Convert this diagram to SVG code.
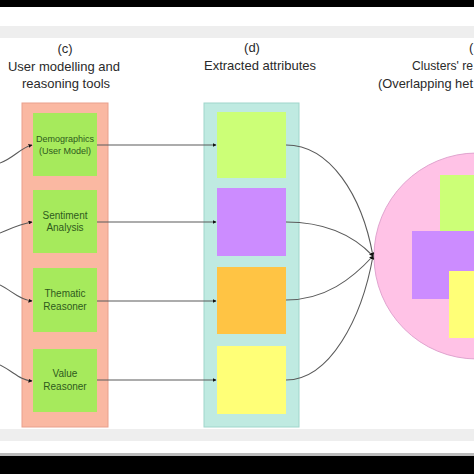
<svg xmlns="http://www.w3.org/2000/svg" width="474" height="474" viewBox="0 0 474 474">
<style>
.title{font-family:"Liberation Sans",Arial,sans-serif;font-size:13px;fill:#2a2a2a;text-anchor:middle}
.lbl{font-family:"Liberation Sans",Arial,sans-serif;font-size:10px;fill:#2f5a1c;text-anchor:middle}
.tool{fill:#a6ea5c}
.conn{fill:none;stroke:#5a5a5a;stroke-width:1.1}
</style>
<defs>
<marker id="ah" markerWidth="4" markerHeight="4" refX="3.5" refY="2" orient="auto" markerUnits="userSpaceOnUse">
<path d="M0,0 L4,2 L0,4 Z" fill="#111"/>
</marker>
</defs>
<rect x="0" y="0" width="474" height="474" fill="#ffffff"/>
<rect x="0" y="0" width="474" height="7" fill="#000"/>
<rect x="0" y="26" width="474" height="12" fill="#eeeeee"/>
<rect x="0" y="429" width="474" height="12" fill="#eeeeee"/>
<rect x="0" y="453" width="474" height="4" fill="#bbbbbb"/>
<rect x="0" y="456" width="474" height="18" fill="#000"/>

<g id="titles">
<text class="title" x="65" y="53">(c)</text>
<text class="title" x="64" y="71">User modelling and</text>
<text class="title" x="66" y="88">reasoning tools</text>
<text class="title" x="252" y="52">(d)</text>
<text class="title" x="260" y="70">Extracted attributes</text>
<text class="title" x="469" y="52" style="text-anchor:start">(</text>
<text class="title" x="412" y="70" style="text-anchor:start" textLength="61" lengthAdjust="spacingAndGlyphs">Clusters' re</text>
<text class="title" x="378" y="88" style="text-anchor:start" textLength="95" lengthAdjust="spacingAndGlyphs">(Overlapping het</text>
</g>

<g id="panel-tools">
<rect x="22" y="103" width="86" height="324" fill="#fab8a2" stroke="#e9a08c" stroke-width="1"/>
</g>
<g id="demographics">
<rect class="tool" x="33" y="113" width="64" height="63"/>
<text class="lbl" x="65" y="142" style="font-size:9px">Demographics</text>
<text class="lbl" x="65" y="154" style="font-size:9px">(User Model)</text>
</g>
<g id="sentiment">
<rect class="tool" x="33" y="190" width="64" height="63"/>
<text class="lbl" x="65" y="219">Sentiment</text>
<text class="lbl" x="65" y="231">Analysis</text>
</g>
<g id="thematic">
<rect class="tool" x="33" y="268" width="64" height="64"/>
<text class="lbl" x="65" y="297">Thematic</text>
<text class="lbl" x="65" y="310">Reasoner</text>
</g>
<g id="value">
<rect class="tool" x="33" y="349" width="64" height="63"/>
<text class="lbl" x="65" y="377">Value</text>
<text class="lbl" x="65" y="390">Reasoner</text>
</g>

<g id="panel-attributes">
<rect x="204" y="103" width="95" height="324" fill="#bfeae1" stroke="#9fd6cb" stroke-width="1"/>
</g>
<g id="attr1"><rect x="217" y="112" width="69" height="66" fill="#ccff77"/></g>
<g id="attr2"><rect x="217" y="188" width="69" height="68" fill="#cc8cff"/></g>
<g id="attr3"><rect x="217" y="267" width="69" height="67" fill="#ffc444"/></g>
<g id="attr4"><rect x="217" y="346" width="69" height="68" fill="#ffff77"/></g>

<g id="cluster">
<circle cx="477" cy="256" r="103" fill="#ffc2e6" stroke="#e0a4cf" stroke-width="1"/>
<rect x="440" y="175" width="40" height="57" fill="#ccff77"/>
<rect x="412" y="231" width="68" height="68" fill="#cc8cff"/>
<rect x="449" y="271" width="31" height="67" fill="#ffff77"/>
</g>

<g id="connectors">
<path class="conn" d="M0,163 C14,158 20,148 32,145" marker-end="url(#ah)"/>
<path class="conn" d="M0,233 C12,228 20,224 32,222" marker-end="url(#ah)"/>
<path class="conn" d="M0,285 C12,291 20,300 32,301" marker-end="url(#ah)"/>
<path class="conn" d="M0,365 C14,372 20,380 32,381" marker-end="url(#ah)"/>
<path class="conn" d="M97,145 L216,145" marker-end="url(#ah)"/>
<path class="conn" d="M97,222 L216,222" marker-end="url(#ah)"/>
<path class="conn" d="M97,301 L216,301" marker-end="url(#ah)"/>
<path class="conn" d="M97,380 L216,380" marker-end="url(#ah)"/>
<path class="conn" d="M286,145 C330,145 362,195 373,256" marker-end="url(#ah)"/>
<path class="conn" d="M286,222 C325,222 352,234 373,256" marker-end="url(#ah)"/>
<path class="conn" d="M286,300 C325,300 352,279 373,256" marker-end="url(#ah)"/>
<path class="conn" d="M286,380 C330,380 362,318 373,256" marker-end="url(#ah)"/>
</g>
</svg>
